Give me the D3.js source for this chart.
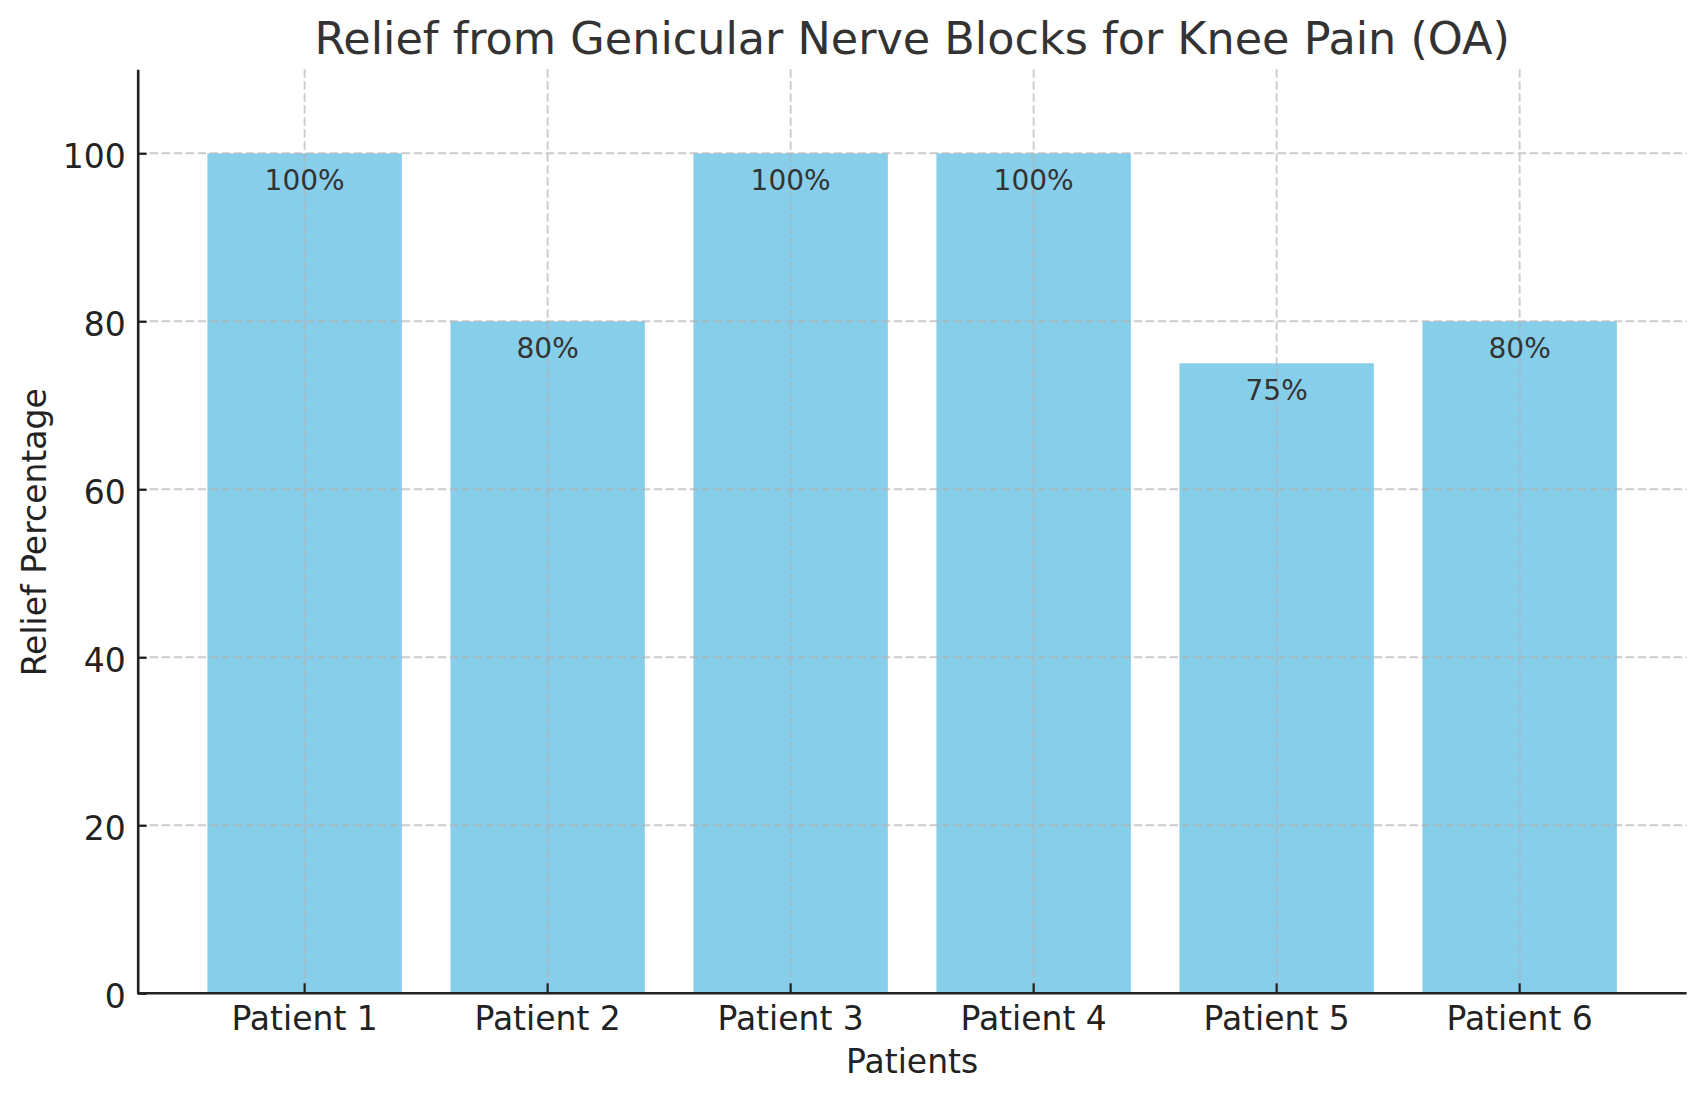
<!DOCTYPE html>
<html>
<head>
<meta charset="utf-8">
<script src="https://cdn.jsdelivr.net/npm/d3@7"></script>
<style>
  body { margin: 0; background: #fff; }
  text { font-family: "DejaVu Sans", sans-serif; }
</style>
</head>
<body>
<div id="chart"></div>
<script>
// data
const patients = ['Patient 1', 'Patient 2', 'Patient 3', 'Patient 4', 'Patient 5', 'Patient 6']
const relief = [100, 80, 100, 100, 75, 80]
const yTicks = [0, 20, 40, 60, 80, 100]

const width = 1707
const height = 1101
const margin = { top: 69.3, right: 20.4, bottom: 107.7, left: 137.7 }

const svg = d3.select('#chart')
    .append('svg')
    .attr('width', width)
    .attr('height', height)

const xScale = d3.scaleBand()
    .domain(patients)
    .range([margin.left, width - margin.right])
    .paddingInner(0.2)
    .paddingOuter(0.287)

const yScale = d3.scaleLinear()
    .domain([0, 110])
    .range([height - margin.bottom, margin.top])

const rows = patients.map((p, i) => ({ name: p, value: relief[i] }))

// bars
svg.append('g')
    .selectAll('rect')
    .data(rows)
    .enter()
    .append('rect')
    .attr('x', d => xScale(d.name))
    .attr('width', xScale.bandwidth())
    .attr('y', d => yScale(d.value))
    .attr('height', d => yScale(0) - yScale(d.value))
    .attr('fill', '#87ceeb')

// grid, on top of the bars like the reference
const grid = svg.append('g')
    .attr('stroke', '#b0b0b0')
    .attr('stroke-opacity', 0.65)
    .attr('stroke-width', 1.9)
    .attr('stroke-dasharray', '8.4,3.6')

grid.selectAll('.hgrid')
    .data(yTicks)
    .enter()
    .append('line')
    .attr('x1', margin.left)
    .attr('x2', width - margin.right)
    .attr('y1', d => yScale(d))
    .attr('y2', d => yScale(d))

grid.selectAll('.vgrid')
    .data(patients)
    .enter()
    .append('line')
    .attr('x1', d => xScale(d) + xScale.bandwidth() / 2)
    .attr('x2', d => xScale(d) + xScale.bandwidth() / 2)
    .attr('y1', yScale(110))
    .attr('y2', yScale(0))

// value labels inside bar tops
svg.append('g')
    .selectAll('text')
    .data(rows)
    .enter()
    .append('text')
    .attr('x', d => xScale(d.name) + xScale.bandwidth() / 2)
    .attr('y', d => yScale(d.value) + 37)
    .attr('text-anchor', 'middle')
    .attr('font-size', 28)
    .attr('fill', '#333')
    .text(d => d.value + '%')

// axes
const xAxis = d3.axisBottom(xScale)
    .tickSizeInner(-10)
    .tickSizeOuter(0)
    .tickPadding(0)

const gx = svg.append('g')
    .attr('transform', `translate(0,${yScale(0)})`)
    .call(xAxis)
gx.select('.domain')
    .attr('d', `M${margin.left},0H${width - margin.right}`)

const yAxis = d3.axisLeft(yScale)
    .tickValues(yTicks)
    .tickSizeInner(-9)
    .tickSizeOuter(0)
    .tickPadding(12)

const gy = svg.append('g')
    .attr('transform', `translate(${margin.left},0)`)
    .call(yAxis)

svg.selectAll('.domain')
    .attr('stroke', '#222')
    .attr('stroke-width', 2.6)
svg.selectAll('.tick line')
    .attr('stroke', '#222')
    .attr('stroke-width', 2.2)
svg.selectAll('.tick text')
    .attr('font-family', '"DejaVu Sans", sans-serif')
    .attr('font-size', 33)
    .attr('fill', '#222')
gx.selectAll('.tick text')
    .attr('dy', null)
    .attr('y', 37)
gy.selectAll('.tick text')
    .attr('dy', '0.44em')

// titles
svg.append('text')
    .attr('x', (margin.left + width - margin.right) / 2)
    .attr('y', 54)
    .attr('text-anchor', 'middle')
    .attr('font-size', 44.5)
    .attr('fill', '#333')
    .text('Relief from Genicular Nerve Blocks for Knee Pain (OA)')

svg.append('text')
    .attr('x', (margin.left + width - margin.right) / 2)
    .attr('y', 1073)
    .attr('text-anchor', 'middle')
    .attr('font-size', 33)
    .attr('fill', '#222')
    .text('Patients')

svg.append('text')
    .attr('transform', `translate(46,${(margin.top + height - margin.bottom) / 2 + 1}) rotate(-90)`)
    .attr('text-anchor', 'middle')
    .attr('font-size', 33)
    .attr('fill', '#222')
    .text('Relief Percentage')
</script>
</body>
</html>
